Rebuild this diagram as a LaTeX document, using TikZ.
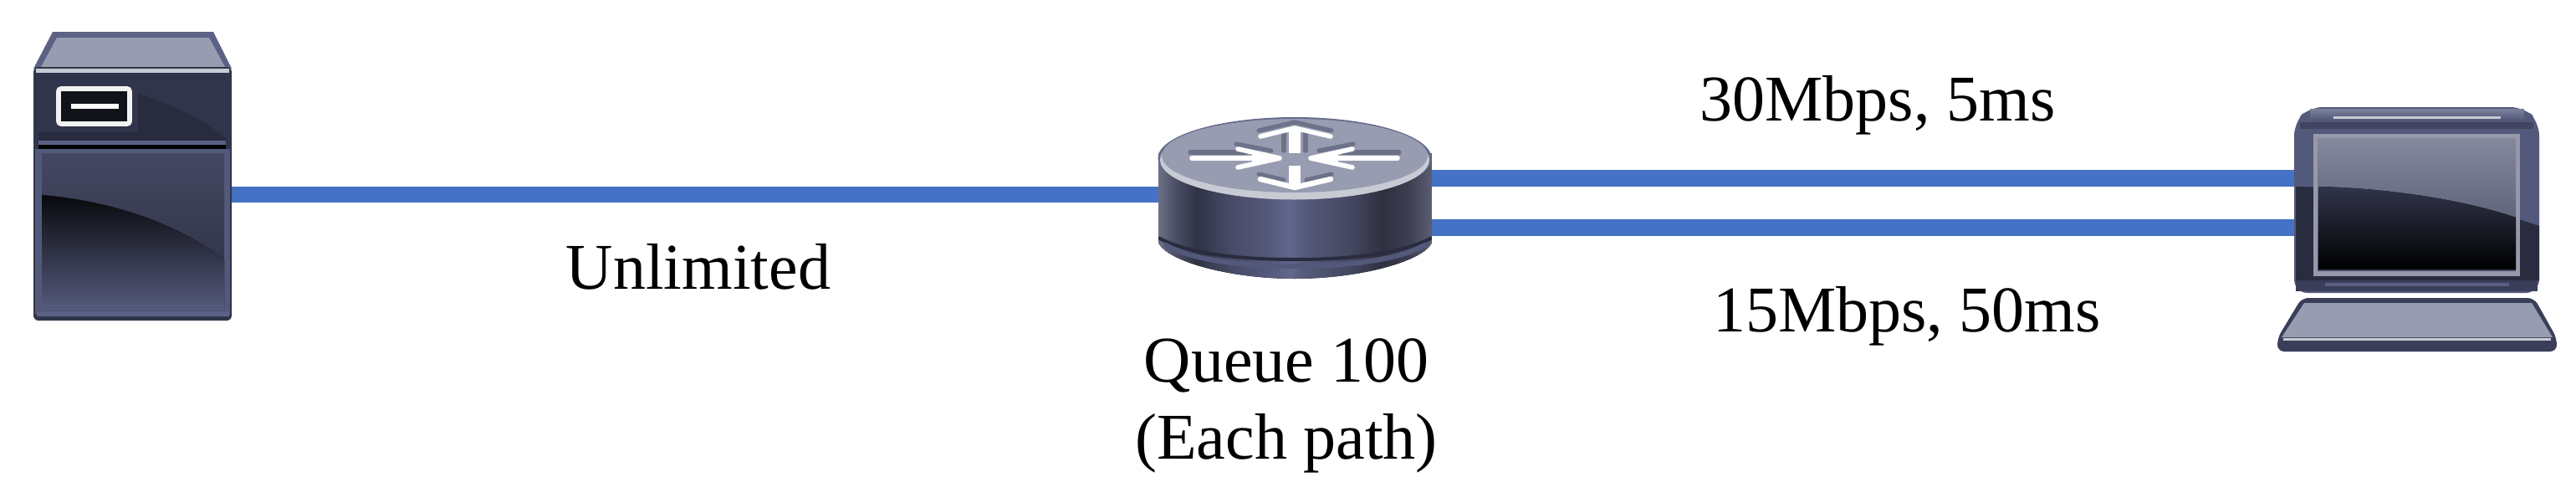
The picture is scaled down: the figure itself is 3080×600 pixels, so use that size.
\documentclass[tikz,border=0pt]{standalone}
\usepackage{fontspec}
\setmainfont{Liberation Serif}
\definecolor{linkblue}{HTML}{4472C4}
\definecolor{iconedge}{HTML}{3A3E58}
\definecolor{icontop}{HTML}{989CB0}
\definecolor{iconrim}{HTML}{5C6286}
\definecolor{iconlight}{HTML}{C8CAD4}
\pgfdeclarehorizontalshading{routerband}{100bp}{%
  rgb(0bp)=(0.42,0.44,0.52);rgb(25bp)=(0.42,0.44,0.52);rgb(28bp)=(0.30,0.31,0.40);
  rgb(32bp)=(0.19,0.20,0.27);rgb(38bp)=(0.28,0.29,0.40);rgb(45bp)=(0.33,0.35,0.48);
  rgb(49bp)=(0.38,0.40,0.55);rgb(52bp)=(0.33,0.35,0.47);rgb(60bp)=(0.27,0.28,0.38);
  rgb(66bp)=(0.18,0.19,0.25);rgb(71bp)=(0.24,0.25,0.32);rgb(75bp)=(0.36,0.37,0.45);rgb(100bp)=(0.36,0.37,0.45)}
\tikzset{
  link/.style={draw=linkblue,line width=9.6pt},
  lbl/.style={font=\fontsize{39}{46}\selectfont,inner sep=0pt,align=center},
  arrowwhite/.style={draw=white,line cap=round,line join=round},
  arrowshade/.style={draw=iconedge!45!icontop,line cap=round,line join=round}
}
\begin{document}
\begin{tikzpicture}[x=0.5pt,y=-0.5pt]
\useasboundingbox (0,0) rectangle (3080,600);
% anchors for the links
\coordinate (srvport) at (277,232.5);
\coordinate (rtrw) at (1400,232.5);
\coordinate (rtrea) at (1700,213);
\coordinate (rteb) at (1700,272);
\coordinate (lapa) at (2748,213);
\coordinate (lapb) at (2748,272);
\draw[link] (srvport) -- (rtrw);
\draw[link] (rtrea) -- (lapa);
\draw[link] (rteb) -- (lapb);

% ---- server
\fill[iconrim] (63,38) -- (255,38) -- (277,82) -- (40,82) -- cycle;
\fill[icontop] (68,45) -- (250,45) -- (270,82) -- (48,82) -- cycle;
\fill[rounded corners=3pt,iconedge!85!black] (40,80) -- (277,80) -- (277,383) -- (40,383) -- cycle;
\fill[black!30!iconedge] (165,112) .. controls (210,125) and (245,145) .. (270,165) -- (270,172) -- (46,172) -- (46,158) -- (165,158) -- cycle;
\draw[iconlight,line width=2.5pt] (43,84) -- (274,84);
\fill[iconrim] (46,168) rectangle (270,173);
\fill[black] (46,173) rectangle (270,178);
\fill[iconrim!75!iconedge] (42,178) rectangle (275,376);
\fill[top color=iconedge!95!white,bottom color=iconedge!85!black] (50,183) rectangle (268,320);
\fill[top color=black!85!iconedge,bottom color=iconrim!80!iconedge]
  (50,233) .. controls (130,240) and (210,265) .. (268,310) -- (268,371) -- (50,371) -- cycle;
\fill[iconrim] (44,372) rectangle (274,378);
\draw[white!90!gray,fill=black!70!iconedge,line width=2.8pt,rounded corners=1.5pt] (70,106) rectangle (155,148);
\draw[white,line width=2.8pt] (85,127) -- (142,127);

% ---- router
\begin{scope}
\clip (1385,183) -- (1385,290) .. controls (1395,312) and (1470,333) .. (1548,333) .. controls (1626,333) and (1702,312) .. (1712,290) -- (1712,183) -- cycle;
\fill[shading=routerband] (1385,150) rectangle (1712,340);
\draw[iconedge!70!black,line width=2pt] (1385,284) .. controls (1420,303) and (1480,310) .. (1548,310) .. controls (1616,310) and (1677,303) .. (1712,284);
\draw[iconrim!75!iconedge,line width=3pt] (1392,292) .. controls (1425,311) and (1485,318) .. (1548,318) .. controls (1611,318) and (1672,311) .. (1705,292);
\end{scope}
\fill[iconrim!85!icontop] (1548,189) ellipse [x radius=163.5,y radius=49];
\fill[iconlight] (1548,191) ellipse [x radius=161,y radius=47.5];
\fill[icontop] (1548,186) ellipse [x radius=159,y radius=44];
% arrow shadows
\begin{scope}[arrowshade,line width=2.6pt]
\draw (1423,182) -- (1490,182);
\draw (1478,172) -- (1520,180);
\draw (1673,182) -- (1605,182);
\draw (1618,172) -- (1577,180);
\draw (1505,156) -- (1548,146) -- (1592,156);
\draw (1505,208) -- (1535,215);
\draw (1592,208) -- (1562,215);
\draw (1535,158) -- (1535,180);
\draw (1561,158) -- (1561,180);
\end{scope}
% arrows
\begin{scope}[arrowwhite]
\draw[line width=2.8pt] (1425,189) -- (1500,189);
\draw[line width=2.8pt] (1480,178) -- (1530,189) -- (1480,200);
\fill[white] (1497,184) -- (1530,189) -- (1497,194) -- cycle;
\draw[line width=2.8pt] (1671,189) -- (1600,189);
\draw[line width=2.8pt] (1617,178) -- (1567,189) -- (1617,200);
\fill[white] (1600,184) -- (1567,189) -- (1600,194) -- cycle;
\draw[line width=2.8pt] (1507,163) -- (1548,153) -- (1591,163);
\draw[line width=3.2pt] (1507,214) -- (1548,224) -- (1591,214);
\end{scope}
\fill[white] (1541,153) rectangle (1555,183);
\fill[white] (1541,198) rectangle (1555,224);

% ---- laptop
\fill[iconrim!75!iconedge,rounded corners=8pt] (2743,350) -- (2743,146) -- (2761,128) -- (3018,128) -- (3036,146) -- (3036,350) -- cycle;
\fill[top color=iconrim!80!white,bottom color=iconrim!90!black] (2762,130) rectangle (3018,143);
\draw[iconlight,line width=1.5pt] (2790,140) -- (2990,140);
\fill[iconedge!80!iconrim] (2750,146) rectangle (3029,154);
\fill[iconedge!70!black] (2745,223) .. controls (2850,225) and (2950,240) .. (3036,270) -- (3036,335) -- (2745,335) -- cycle;
\fill[iconedge] (2745,335) rectangle (3034,348);
\fill[iconrim!90!iconedge] (2780,338) rectangle (3000,342);
\fill[color=iconlight!65!iconedge] (2766,160) rectangle (3013,330);
\fill[top color=icontop!80!iconedge,bottom color=iconedge!85!icontop] (2771,165) rectangle (3008,323);
\fill[top color=iconedge!85!black,bottom color=black] (2772,223) .. controls (2860,225) and (2950,240) .. (3008,260) -- (3008,322) -- (2772,322) -- cycle;

\fill[iconedge,rounded corners=4pt] (2752,356) -- (3030,356) -- (3057,404) -- (3057,420) -- (2723,420) -- (2723,404) -- cycle;
\fill[icontop] (2755,362) -- (3027,362) -- (3052,403) -- (2728,403) -- cycle;
\draw[iconlight,line width=1.5pt] (2730,405) -- (3050,405);

% ---- labels
\node[lbl] (tunl) at (835,319) {Unlimited};
\node[lbl] (tfast) at (2245,126) {30Mbps, 5ms};
\node[lbl] (tslow) at (2280,378) {15Mbps, 50ms};
\node[lbl] (tq1) at (1538,437) {Queue 100};
\node[lbl] (tq2) at (1538,530) {(Each path)};
\end{tikzpicture}
\end{document}
